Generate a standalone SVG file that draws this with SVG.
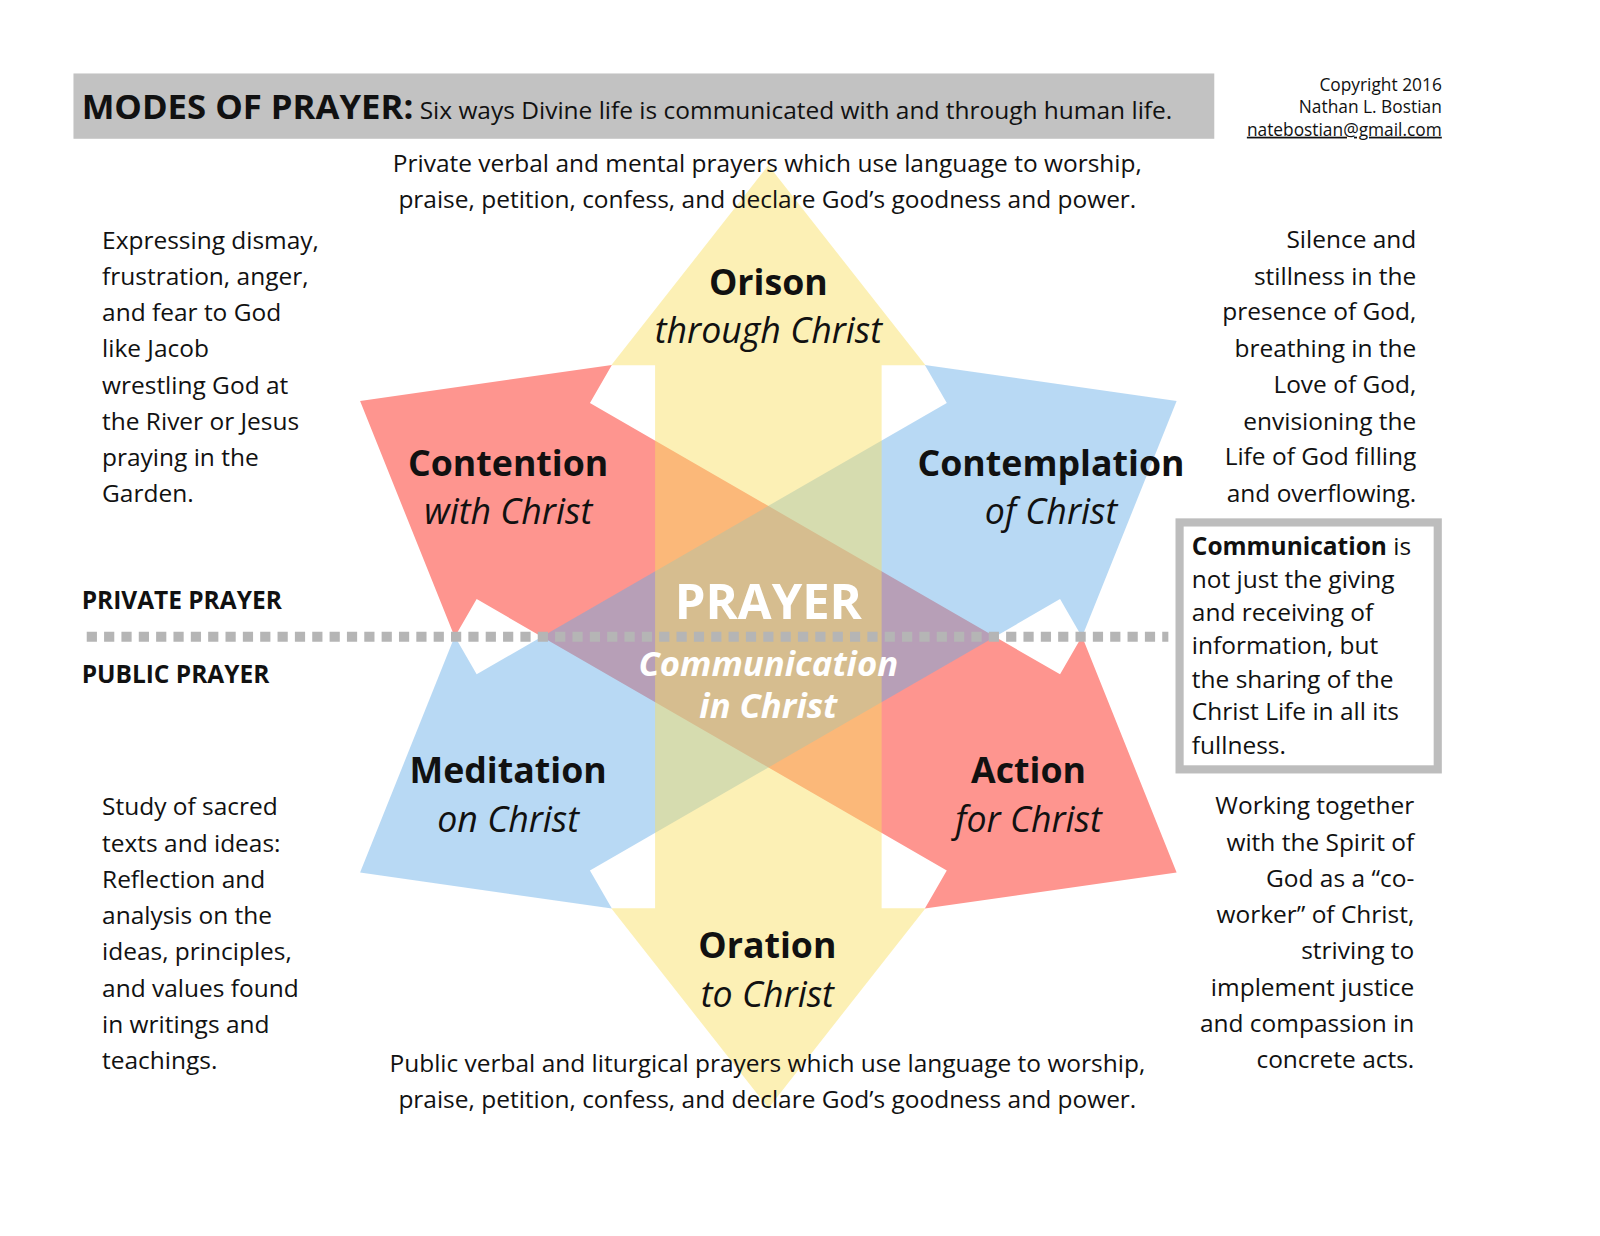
<svg xmlns="http://www.w3.org/2000/svg" width="1600" height="1236" viewBox="0 0 1600 1236">
<style>
text{font-family:"Open Sans","Liberation Sans",sans-serif;fill:#111}
.b{font-size:24px}
.r{font-size:24px;text-anchor:end}
.h{font-size:35px;font-weight:bold;text-anchor:middle}
.i{font-size:35px;font-style:italic;text-anchor:middle}
.c{font-size:17px;text-anchor:end}
</style>
<defs>
<path id="a" d="M0,-462 L154,-266 L111,-266 L111,266 L154,266 L0,462 L-154,266 L-111,266 L-111,-266 L-154,-266 Z"/>
</defs>
<rect width="1600" height="1236" fill="#fff"/>
<g transform="scale(1.0204)">
<g id="header">
<rect x="72" y="72" width="1118" height="64" fill="#c2c2c2"/>
<text x="80" y="117" style="font-size:34px;font-weight:bold">MODES OF PRAYER:<tspan style="font-size:24px;font-weight:normal"> Six ways Divine life is communicated with and through human life.</tspan></text>
<text x="1413" y="89" class="c">Copyright 2016</text>
<text x="1413" y="111" class="c">Nathan L. Bostian</text>
<text x="1413" y="133" class="c" style="text-decoration:underline">natebostian@gmail.com</text>
</g>
<g id="arrows" transform="translate(753,624)">
<use href="#a" fill="#fe958f" transform="rotate(-60)"/>
<use href="#a" fill="#64ace8" fill-opacity="0.46" transform="rotate(60)"/>
<use href="#a" fill="#f9df62" fill-opacity="0.47"/>
</g>
<g id="divider">
<line x1="85" y1="624" x2="1145" y2="624" stroke="#b5b5b5" stroke-width="10" stroke-dasharray="10 7"/>
<text x="80" y="597" style="font-size:24px;font-weight:bold">PRIVATE PRAYER</text>
<text x="80" y="669" style="font-size:24px;font-weight:bold">PUBLIC PRAYER</text>
</g>
<g id="orison"><text x="753" y="289" class="h">Orison</text><text x="753" y="336" class="i">through Christ</text></g>
<g id="contention"><text x="498" y="466" class="h">Contention</text><text x="498" y="514" class="i">with Christ</text></g>
<g id="contemplation"><text x="1030" y="466" class="h">Contemplation</text><text x="1030" y="514" class="i">of Christ</text></g>
<g id="meditation"><text x="498" y="767" class="h">Meditation</text><text x="498" y="815" class="i">on Christ</text></g>
<g id="action"><text x="1008" y="767" class="h">Action</text><text x="1008" y="815" class="i">for Christ</text></g>
<g id="oration"><text x="752" y="939" class="h">Oration</text><text x="752" y="987" class="i">to Christ</text></g>
<g id="prayer">
<text x="753" y="607" style="font-size:48px;font-weight:bold;text-anchor:middle;fill:#fff">PRAYER</text>
<text x="753" y="662" style="font-size:34px;font-weight:bold;font-style:italic;text-anchor:middle;fill:#fff">Communication</text>
<text x="753" y="704" style="font-size:34px;font-weight:bold;font-style:italic;text-anchor:middle;fill:#fff">in Christ</text>
</g>
<g id="topText">
<text x="752" y="169" class="b" text-anchor="middle">Private verbal and mental prayers which use language to worship,</text>
<text x="752" y="204" class="b" text-anchor="middle">praise, petition, confess, and declare God’s goodness and power.</text>
</g>
<g id="bottomText">
<text x="752" y="1051" class="b" text-anchor="middle">Public verbal and liturgical prayers which use language to worship,</text>
<text x="752" y="1086" class="b" text-anchor="middle">praise, petition, confess, and declare God’s goodness and power.</text>
</g>
<g id="leftTop">
<text x="100" y="244" class="b">Expressing dismay,</text>
<text x="100" y="279" class="b">frustration, anger,</text>
<text x="100" y="315" class="b">and fear to God</text>
<text x="100" y="350" class="b">like Jacob</text>
<text x="100" y="386" class="b">wrestling God at</text>
<text x="100" y="421" class="b">the River or Jesus</text>
<text x="100" y="457" class="b">praying in the</text>
<text x="100" y="492" class="b">Garden.</text>
</g>
<g id="leftBottom">
<text x="100" y="799" class="b">Study of sacred</text>
<text x="100" y="835" class="b">texts and ideas:</text>
<text x="100" y="870" class="b">Reflection and</text>
<text x="100" y="906" class="b">analysis on the</text>
<text x="100" y="941" class="b">ideas, principles,</text>
<text x="100" y="977" class="b">and values found</text>
<text x="100" y="1012" class="b">in writings and</text>
<text x="100" y="1048" class="b">teachings.</text>
</g>
<g id="rightTop">
<text x="1388" y="243" class="r">Silence and</text>
<text x="1388" y="279" class="r">stillness in the</text>
<text x="1388" y="314" class="r">presence of God,</text>
<text x="1388" y="350" class="r">breathing in the</text>
<text x="1388" y="385" class="r">Love of God,</text>
<text x="1388" y="421" class="r">envisioning the</text>
<text x="1388" y="456" class="r">Life of God filling</text>
<text x="1388" y="492" class="r">and overflowing.</text>
</g>
<g id="rightBottom">
<text x="1386" y="798" class="r">Working together</text>
<text x="1386" y="834" class="r">with the Spirit of</text>
<text x="1386" y="869" class="r">God as a “co-</text>
<text x="1386" y="905" class="r">worker” of Christ,</text>
<text x="1386" y="940" class="r">striving to</text>
<text x="1386" y="976" class="r">implement justice</text>
<text x="1386" y="1011" class="r">and compassion in</text>
<text x="1386" y="1047" class="r">concrete acts.</text>
</g>
<g id="commBox">
<rect x="1156" y="512" width="253" height="242" fill="#fff" stroke="#bdbdbd" stroke-width="8"/>
<text x="1168" y="544" class="b"><tspan font-weight="bold">Communication</tspan> is</text>
<text x="1168" y="576" class="b">not just the giving</text>
<text x="1168" y="609" class="b">and receiving of</text>
<text x="1168" y="641" class="b">information, but</text>
<text x="1168" y="674" class="b">the sharing of the</text>
<text x="1168" y="706" class="b">Christ Life in all its</text>
<text x="1168" y="739" class="b">fullness.</text>
</g>
</g>
</svg>
